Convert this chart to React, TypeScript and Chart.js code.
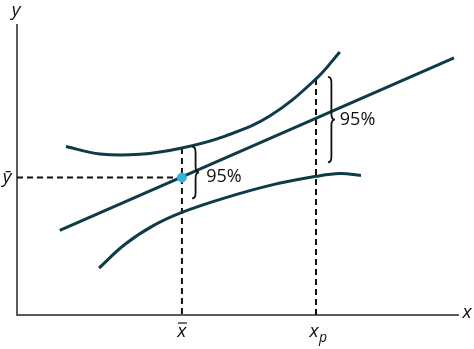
import React, { useEffect, useRef } from "react";
import { Chart, registerables } from "chart.js";

Chart.register(...registerables);

// ---- data (abstract units: x 0..10, y 0..10) ----
const lineX = [0.97, 9.91];
const lineY = [2.92, 8.87];

const upperX = [1.11, 1.88, 2.79, 3.74, 4.72, 5.74, 6.78, 7.32];
const upperY = [5.81, 5.55, 5.54, 5.76, 6.17, 6.87, 8.14, 9.07];

const lowerX = [1.86, 2.45, 3.1, 3.74, 4.72, 5.74, 6.78, 7.32, 7.8];
const lowerY = [1.62, 2.44, 3.09, 3.54, 4.04, 4.47, 4.78, 4.88, 4.81];

const xBar = 3.74;
const yBar = 4.74;
const xP = 6.78;
const upperAtXBar = 5.76;
const upperAtXP = 8.14;

// braces: [x, top, bottom]
const brace1 = [3.97, 5.81, 4.02];
const brace2 = [7.05, 8.21, 5.26];
const bandText1 = [4.29, 4.78];
const bandText2 = [7.32, 6.74];

const labelY = "y";
const labelX = "x";
const labelYBar = "ȳ";
const labelXBar = "x";
const labelXP = "x";
const labelXPSub = "p";
const bandLabel = "95%";

const CURVE = "#0e3b48";
const AXIS = "#5a5a5a";
const POINT = "#2fb6d6";
const FONT = '"Open Sans", "DejaVu Sans", sans-serif';

const zip = (xs: number[], ys: number[]) => xs.map((x, i) => ({ x, y: ys[i] }));

function drawBrace(ctx: CanvasRenderingContext2D, x: number, top: number, bottom: number, w: number) {
  const mid = (top + bottom) / 2;
  const r = 6;
  const h = x + w / 2;
  ctx.beginPath();
  ctx.moveTo(x, top);
  ctx.quadraticCurveTo(h, top, h, top + r);
  ctx.lineTo(h, mid - r);
  ctx.quadraticCurveTo(h, mid, x + w, mid);
  ctx.quadraticCurveTo(h, mid, h, mid + r);
  ctx.lineTo(h, bottom - r);
  ctx.quadraticCurveTo(h, bottom, x, bottom);
  ctx.stroke();
}

const annotPlugin = {
  id: "annot",
  afterDraw(chart: any) {
    const ctx: CanvasRenderingContext2D = chart.ctx;
    const xs = chart.scales.x;
    const ys = chart.scales.y;
    const area = chart.chartArea;
    const px = (v: number) => xs.getPixelForValue(v);
    const py = (v: number) => ys.getPixelForValue(v);
    ctx.save();
    ctx.strokeStyle = "#111";
    ctx.lineWidth = 1.8;
    ctx.setLineDash([]);
    drawBrace(ctx, px(brace1[0]), py(brace1[1]), py(brace1[2]), 7);
    drawBrace(ctx, px(brace2[0]), py(brace2[1]), py(brace2[2]), 7);

    ctx.fillStyle = "#111";
    ctx.textBaseline = "middle";
    ctx.textAlign = "left";
    ctx.font = `18px ${FONT}`;
    ctx.fillText(bandLabel, px(bandText1[0]), py(bandText1[1]));
    ctx.fillText(bandLabel, px(bandText2[0]), py(bandText2[1]));

    ctx.font = `italic 19px ${FONT}`;
    ctx.textAlign = "center";
    // axis names
    ctx.fillText(labelY, area.left - 1, area.top - 14);
    ctx.fillText(labelX, area.right + 9, area.bottom - 2);
    // y bar
    ctx.fillText(labelYBar, area.left - 10, py(yBar));
    // x bar
    const xb = px(xBar);
    const base = area.bottom + 17;
    ctx.fillText(labelXBar, xb, base);
    ctx.lineWidth = 1.2;
    ctx.beginPath();
    ctx.moveTo(xb - 4, base - 9);
    ctx.lineTo(xb + 5, base - 9);
    ctx.stroke();
    // x_p
    const xp = px(xP);
    ctx.fillText(labelXP, xp - 2, base);
    ctx.font = `italic 14px ${FONT}`;
    ctx.fillText(labelXPSub, xp + 7, base + 6);
    ctx.restore();
  },
};

export default function App() {
  const ref = useRef<HTMLCanvasElement>(null);
  useEffect(() => {
    if (!ref.current) return;
    const dashed = {
      borderColor: "#111",
      borderWidth: 2,
      borderDash: [6, 4],
      pointRadius: 0,
      showLine: true,
      order: 3,
    };
    const chart = new Chart(ref.current, {
      type: "scatter",
      data: {
        datasets: [
          {
            data: [{ x: xBar, y: yBar }],
            pointRadius: 4.5,
            pointBackgroundColor: POINT,
            pointBorderColor: POINT,
            order: 0,
          } as any,
          {
            data: zip(lineX, lineY),
            showLine: true,
            borderColor: CURVE,
            borderWidth: 3,
            pointRadius: 0,
            order: 1,
          },
          {
            data: zip(upperX, upperY),
            showLine: true,
            borderColor: CURVE,
            borderWidth: 3,
            pointRadius: 0,
            tension: 0.4,
            order: 1,
          },
          {
            data: zip(lowerX, lowerY),
            showLine: true,
            borderColor: CURVE,
            borderWidth: 3,
            pointRadius: 0,
            tension: 0.4,
            order: 1,
          },
          { ...dashed, data: [{ x: 0, y: yBar }, { x: xBar, y: yBar }] },
          { ...dashed, data: [{ x: xBar, y: upperAtXBar }, { x: xBar, y: 0 }] },
          { ...dashed, data: [{ x: xP, y: upperAtXP }, { x: xP, y: 0 }] },
        ] as any,
      },
      options: {
        animation: false,
        responsive: false,
        maintainAspectRatio: false,
        layout: { padding: { left: 17, top: 25, right: 16, bottom: 34 } },
        plugins: { legend: { display: false }, tooltip: { enabled: false } },
        elements: { line: { borderCapStyle: "butt" } },
        scales: {
          x: {
            type: "linear",
            min: 0,
            max: 10,
            grid: { display: false, drawTicks: false, tickLength: 0 },
            ticks: { display: false, padding: 0 },
            border: { display: true, color: AXIS, width: 2 },
          },
          y: {
            type: "linear",
            min: 0,
            max: 10,
            grid: { display: false, drawTicks: false, tickLength: 0 },
            ticks: { display: false, padding: 0 },
            border: { display: true, color: AXIS, width: 2 },
          },
        },
      },
      plugins: [annotPlugin],
    });
    return () => chart.destroy();
  }, []);
  return (
    <div style={{ position: "fixed", left: 0, top: 0, width: 474, height: 349, background: "#fff" }}>
      <canvas ref={ref} width={474} height={349} style={{ width: 474, height: 349, display: "block" }} />
    </div>
  );
}
